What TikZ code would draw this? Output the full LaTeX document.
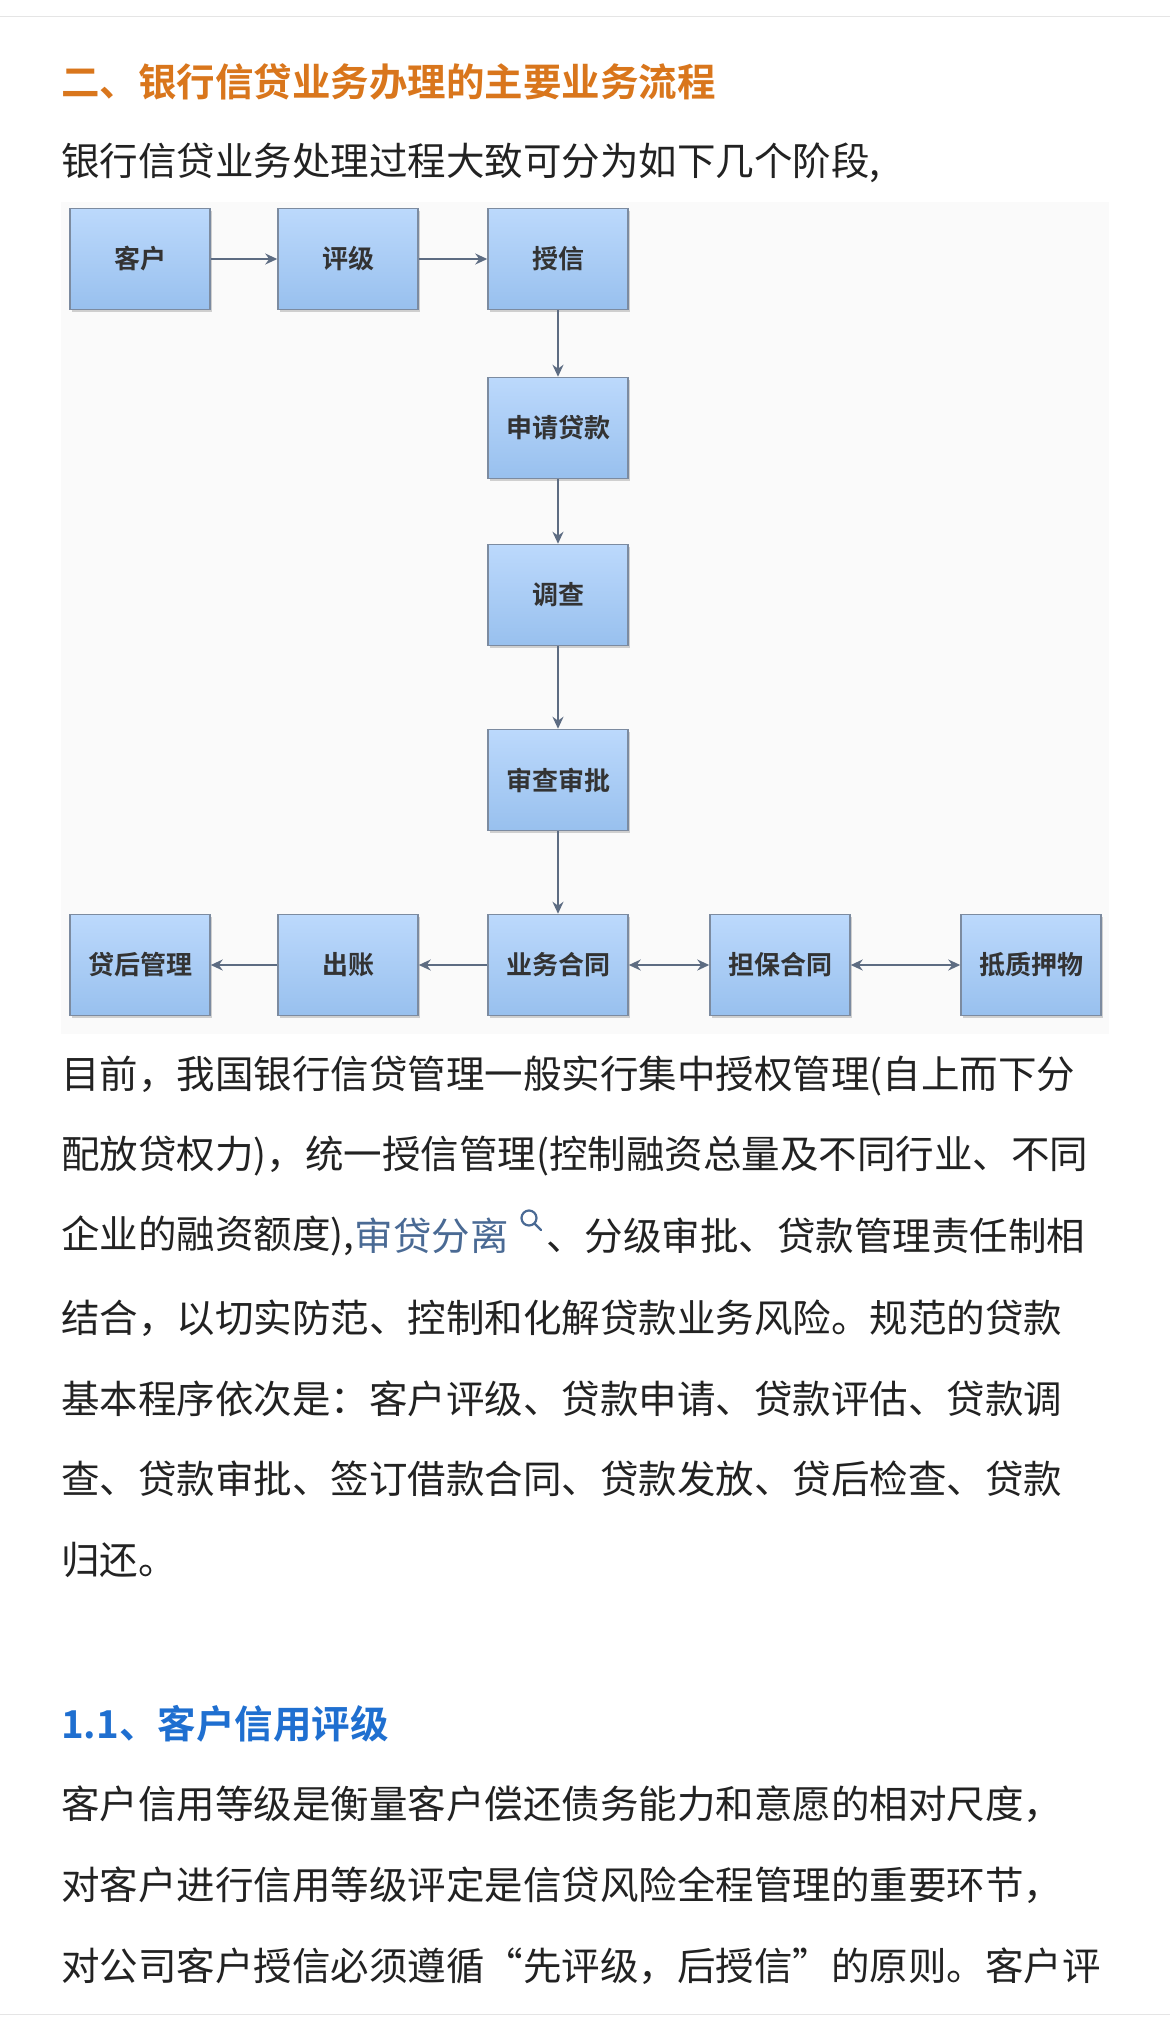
\documentclass[tikz,border=0pt]{standalone}
\usepackage{fontspec}
\setmainfont{Noto Sans CJK SC}
\newfontfamily\cjkb{Noto Sans CJK SC Bold}
\usetikzlibrary{arrows.meta,shadows}
\definecolor{boxtop}{HTML}{BCD9FC}
\definecolor{boxbot}{HTML}{98C0EE}
\definecolor{boxline}{HTML}{7C8BA0}
\definecolor{arr}{HTML}{5D6C82}
\definecolor{txt}{HTML}{222222}
\definecolor{orng}{HTML}{D9761C}
\definecolor{lnk}{HTML}{4A6A94}
\definecolor{hblue}{HTML}{1F6FD0}
\tikzset{
 fbox/.style={draw=boxline,line width=1.5pt,top color=boxtop,bottom color=boxbot,minimum width=140pt,minimum height=101pt,inner sep=0,font=\cjkb\fontsize{26}{26}\selectfont,text=black!80,drop shadow={shadow xshift=2pt,shadow yshift=-2pt,opacity=0.35}},
 conn/.style={draw=arr,line width=1.8pt,-{Stealth[length=12pt,width=11pt]}},
 bconn/.style={draw=arr,line width=1.8pt,{Stealth[length=12pt,width=11pt]}-{Stealth[length=12pt,width=11pt]}},
 para/.style={anchor=west,inner sep=0,text=txt,font=\fontsize{38.5}{38.5}\selectfont},
}
\begin{document}
\begin{tikzpicture}[x=1pt,y=-1pt]
\fill[white] (0,0) rectangle (1170,2038);
\useasboundingbox (0,0) rectangle (1170,2038);
\draw[black!10,line width=1pt] (0,16) -- (1170,16);
\draw[black!10,line width=1pt] (0,2014) -- (1170,2014);
\node[para,text=orng,font=\cjkb\fontsize{38.5}{38.5}\selectfont] (h1) at (61,82) {二、银行信贷业务办理的主要业务流程};
\node[para] (l0) at (61,163) {银行信贷业务处理过程大致可分为如下几个阶段,};
\fill[black!2] (61,202) rectangle (1109,1034);
\node[fbox] (kh) at (140,259) {客户};
\node[fbox] (pj) at (348,259) {评级};
\node[fbox] (sx) at (558,259) {授信};
\node[fbox] (sq) at (558,428) {申请贷款};
\node[fbox] (dc) at (558,595) {调查};
\node[fbox] (sc) at (558,780) {审查审批};
\node[fbox] (ht) at (558,965) {业务合同};
\node[fbox] (cz) at (348,965) {出账};
\node[fbox] (dh) at (140,965) {贷后管理};
\node[fbox] (db) at (780,965) {担保合同};
\node[fbox] (dy) at (1031,965) {抵质押物};
\draw[conn] (kh) -- (pj);
\draw[conn] (pj) -- (sx);
\draw[conn] (sx) -- (sq);
\draw[conn] (sq) -- (dc);
\draw[conn] (dc) -- (sc);
\draw[conn] (sc) -- (ht);
\draw[conn] (ht) -- (cz);
\draw[conn] (cz) -- (dh);
\draw[bconn] (ht) -- (db);
\draw[bconn] (db) -- (dy);
\node[para] (p1) at (61,1076) {目前，我国银行信贷管理一般实行集中授权管理(自上而下分};
\node[para] (p2) at (61,1156) {配放贷权力)，统一授信管理(控制融资总量及不同行业、不同};
\node[para] (p3) at (61,1236) {企业的融资额度),};
\node[para,text=lnk] (p3l) at (p3.east) {审贷分离};
\draw[lnk,line width=2.2pt] (529,1218) circle (7.5pt);
\draw[lnk,line width=2.4pt,line cap=round] (534.5,1223.5) -- (541,1230);
\node[para] (p3r) at (546,1236) {、分级审批、贷款管理责任制相};
\node[para] (p4) at (61,1318) {结合，以切实防范、控制和化解贷款业务风险。规范的贷款};
\node[para] (p5) at (61,1399) {基本程序依次是：客户评级、贷款申请、贷款评估、贷款调};
\node[para] (p6) at (61,1479) {查、贷款审批、签订借款合同、贷款发放、贷后检查、贷款};
\node[para] (p7) at (61,1560) {归还。};
\node[para,text=hblue,font=\cjkb\fontsize{38.5}{38.5}\selectfont] (h2) at (61,1724) {1.1、客户信用评级};
\node[para] (q1) at (61,1804) {客户信用等级是衡量客户偿还债务能力和意愿的相对尺度，};
\node[para] (q2) at (61,1885) {对客户进行信用等级评定是信贷风险全程管理的重要环节，};
\node[para] (q3) at (61,1966) {对公司客户授信必须遵循“先评级，后授信”的原则。客户评};
\end{tikzpicture}
\end{document}
